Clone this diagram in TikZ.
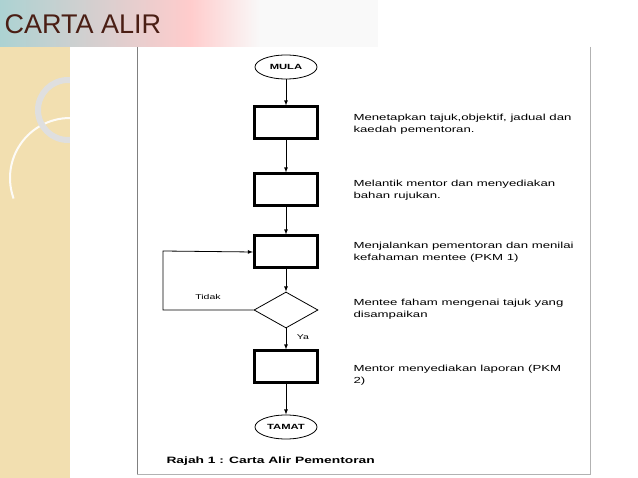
\documentclass[tikz,border=0pt]{standalone}
\usepackage{fontspec}
\setmainfont{Liberation Sans}
\newfontfamily\widefont[FakeStretch=1.5]{Liberation Sans}
\usetikzlibrary{shapes.geometric}
\definecolor{strip}{HTML}{F2DFB0}
\definecolor{titlec}{HTML}{4A1E14}
\begin{document}
\begin{tikzpicture}[x=1pt,y=-1pt,
  term/.style={ellipse,draw,thick,minimum width=62pt,minimum height=24pt,inner sep=0pt,font=\widefont\fontsize{7.5}{9}\selectfont\bfseries},
  proc/.style={draw,line width=3pt,minimum width=63pt,minimum height=32pt,inner sep=0pt},
  dec/.style={diamond,draw,thick,minimum width=64pt,minimum height=36pt,inner sep=0pt,aspect=1.8},
  desc/.style={anchor=west,align=left,font=\widefont\fontsize{8.8}{11.5}\selectfont},
  arr/.style={thick,-latex}]
\useasboundingbox (0,0) rectangle (638,478);
\fill[white] (0,0) rectangle (638,478);
% left strip
\fill[strip] (0,47) rectangle (70,478);
\draw[white,line width=2pt,opacity=0.9] (70,118) arc(-90:-200:60);
\draw[gray!25,line width=6pt] (68,110) circle (30);
\fill[white] (70,47) rectangle (137,478);
% header
\shade[left color=cyan!30!gray!50,right color=red!20] (0,0) rectangle (190,47);
\shade[left color=red!20,right color=gray!5] (190,0) rectangle (260,47);
\fill[gray!5] (260,0) rectangle (378,47);
\node[anchor=west,font=\fontsize{27}{27}\selectfont,text=titlec] (title) at (1,24) {CARTA ALIR};
% frame
\draw[gray] (137,47) -- (137,474);
\draw[gray!60] (590,47) -- (590,474) -- (137,474);
% flow
\node[term] (mula) at (286,67) {MULA};
\node[proc] (b1) at (286,123) {};
\node[proc] (b2) at (286,190) {};
\node[proc] (b3) at (286,252) {};
\node[dec] (d) at (286,310) {};
\node[proc] (b4) at (286,367) {};
\node[term] (tamat) at (286,427) {TAMAT};
\draw[arr] (mula) -- (b1);
\draw[arr] (b1) -- (b2);
\draw[arr] (b2) -- (b3);
\draw[arr] (b3) -- (d);
\draw[arr] (d) -- (b4);
\draw[arr] (b4) -- (tamat);
\coordinate (lb) at (163,310);
\coordinate (lt) at (163,251);
\draw[arr] (d.west) -- (lb) -- (lt) -- (b3.west);
\node[font=\widefont\fontsize{7}{8}\selectfont] (tidak) at (208,297) {Tidak};
\node[font=\widefont\fontsize{7}{8}\selectfont] (ya) at (303,337) {Ya};
\node[desc] (t1) at (350,124) {Menetapkan tajuk,objektif, jadual dan\\kaedah pementoran.};
\node[desc] (t2) at (350,190) {Melantik mentor dan menyediakan\\bahan rujukan.};
\node[desc] (t3) at (350,252) {Menjalankan pementoran dan menilai\\kefahaman mentee (PKM 1)};
\node[desc] (t4) at (350,309) {Mentee faham mengenai tajuk yang\\disampaikan};
\node[desc] (t5) at (350,375) {Mentor menyediakan laporan (PKM\\2)};
\node[anchor=west,font=\widefont\fontsize{9.2}{10}\selectfont\bfseries] (cap) at (163,461) {Rajah 1 : Carta Alir Pementoran};
\end{tikzpicture}
\end{document}
